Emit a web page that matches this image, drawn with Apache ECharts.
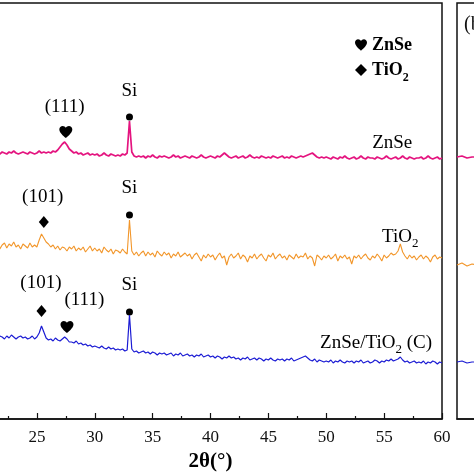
<!DOCTYPE html>
<html>
<head>
<meta charset="utf-8">
<script src="https://cdn.jsdelivr.net/npm/echarts@6/dist/echarts.min.js"></script>
<style>
  html, body { margin: 0; padding: 0; background: #fff; }
  #container { width: 474px; height: 474px; }
</style>
</head>
<body>
<div id="container"></div>
<script>
// 2theta grid, 20.0 .. 60.0 every 0.2 deg
let twoTheta = [];
for (let i = 0; i <= 200; i++) twoTheta.push(+(20 + i * 0.2).toFixed(1));

// intensities (a.u.), one row = 2 degrees
let znseData = [
    266, 267, 265, 266, 268, 266, 265, 267, 266, 265,
    267, 266, 265, 267, 266, 268, 266, 265, 266, 267,
    266, 265, 267, 266, 265, 266, 268, 266, 267, 266,
    267, 266, 268, 267, 269, 272, 275, 277, 274, 270,
    268, 266, 267, 265, 266, 264, 265, 266, 264, 265,
    264, 265, 263, 264, 266, 264, 263, 265, 264, 263,
    264, 263, 265, 264, 266, 298, 267, 263, 262, 263,
    262, 263, 261, 263, 262, 264, 262, 261, 263, 262,
    263, 262, 261, 262, 264, 262, 263, 261, 262, 263,
    262, 261, 263, 262, 261, 262, 264, 262, 261, 262,
    263, 262, 261, 263, 262, 264, 266, 264, 262, 261,
    262, 263, 261, 262, 263, 261, 262, 264, 262, 261,
    262, 261, 263, 262, 261, 262, 261, 263, 262, 261,
    262, 263, 261, 262, 261, 263, 262, 261, 262, 263,
    262, 263, 264, 265, 266, 264, 262, 261, 262, 261,
    262, 261, 260, 262, 261, 260, 262, 261, 263, 261,
    260, 261, 262, 260, 261, 263, 261, 260, 262, 261,
    261, 260, 262, 261, 260, 261, 263, 261, 260, 261,
    262, 260, 261, 263, 261, 260, 262, 261, 260, 261,
    261, 262, 260, 261, 263, 261, 260, 261, 262, 260,
    261
];

let tio2Data = [
    175, 172, 176, 173, 171, 175, 177, 172, 174, 170,
    174, 176, 171, 175, 173, 177, 172, 174, 170, 175,
    173, 171, 176, 172, 174, 172, 179, 185, 181, 177,
    175, 172, 174, 170, 173, 169, 172, 171, 168, 172,
    170, 173, 168, 171, 169, 172, 167, 170, 173, 168,
    171, 168, 170, 166, 172, 169, 167, 170, 165, 169,
    168, 166, 170, 167, 165, 199, 168, 164, 167, 163,
    166, 168, 163, 167, 164, 166, 162, 168, 165, 163,
    167, 164, 166, 161, 165, 163, 167, 162, 164, 166,
    163, 165, 160, 164, 166, 162, 158, 164, 161, 165,
    162, 164, 159, 163, 166, 161, 163, 154, 162, 165,
    161, 163, 166, 160, 164, 162, 157, 163, 161, 165,
    160, 163, 165, 161, 158, 164, 162, 166, 160, 163,
    165, 161, 163, 159, 164, 162, 160, 165, 161, 163,
    162, 166, 160, 163, 161, 153, 164, 162, 159, 163,
    161, 164, 160, 162, 165, 158, 163, 161, 164, 160,
    162, 155, 163, 161, 164, 160, 163, 165, 161, 159,
    163, 161, 165, 162, 158, 164, 161, 163, 166, 164,
    165, 168, 175, 167, 163, 160, 164, 161, 163, 159,
    162, 164, 160, 163, 161, 157, 162, 164, 160, 162,
    161
];

let compositeData = [
    83, 81, 84, 82, 80, 83, 82, 84, 81, 83,
    82, 80, 83, 81, 84, 82, 80, 82, 83, 81,
    82, 80, 81, 83, 80, 82, 86, 93, 87, 81,
    79, 80, 78, 81, 79, 78, 80, 82, 80, 77,
    77, 76, 78, 75, 76, 74, 75, 73, 74, 72,
    73, 72, 71, 73, 71, 70, 72, 70, 71, 69,
    70, 69, 70, 68, 69, 104, 70, 67, 68, 66,
    67, 68, 66, 67, 65, 67, 66, 64, 66, 65,
    66, 64, 65, 66, 63, 65, 64, 66, 63, 64,
    65, 63, 64, 62, 64, 63, 65, 62, 63, 64,
    62, 63, 61, 63, 62, 60, 62, 61, 63, 61,
    62, 60, 61, 59, 61, 60, 62, 59, 60, 61,
    59, 61, 60, 58, 60, 59, 61, 59, 58, 60,
    59, 60, 58, 60, 59, 61, 58, 59, 60, 61,
    62, 63, 61, 59, 58, 60, 57, 59, 58, 57,
    58, 57, 59, 56, 58, 57, 59, 57, 56, 58,
    57, 58, 56, 58, 57, 59, 56, 57, 58, 56,
    57, 59, 58, 56, 58, 57, 59, 58, 60, 58,
    59, 60, 62, 59, 57, 58, 56, 57, 58, 56,
    57, 56, 58, 55, 57, 56, 58, 57, 55, 57,
    56
];

// start of panel (b), only a sliver is visible
let panelBTheta = [20, 20.5, 21, 21.5, 22, 22.5, 23];
let panelBZnse = [262, 263, 261, 262, 262, 261, 262];
let panelBTio2 = [154, 156, 153, 155, 154, 155, 153];
let panelBComp = [57, 58, 56, 57, 57, 56, 57];

// peak markers [2theta, intensity]
let znsePeaks = [[27.5, 287], [27.6, 92]];
let tio2Peaks = [[25.6, 197], [25.4, 108]];
let siPeaks = [[33.0, 302], [33.0, 204], [33.0, 107]];

// peak / pattern captions [text, 2theta, intensity]
let captions = [
    ['(111)', 27.4, 312], ['Si', 33.0, 328],
    ['(101)', 25.5, 222], ['Si', 33.0, 231],
    ['(101)', 25.35, 136], ['(111)', 29.1, 119], ['Si', 33.0, 134],
    ['ZnSe', 55.7, 276],
    ['{a|TiO}{s|2}', 56.4, 182],
    ['{a|ZnSe/TiO}{s|2}{a| (C)}', 54.3, 76]
];

const serif = 'Liberation Serif, Times New Roman, serif';
const ink = '#111';
const heart = 'path://M12 21C12 21 2 13.5 2 7.5C2 4.4 4.4 2 7.2 2C9.2 2 11 3.2 12 4.8C13 3.2 14.8 2 16.8 2C19.6 2 22 4.4 22 7.5C22 13.5 12 21 12 21Z';

function pairs(xs, ys) {
    return xs.map((x, i) => [x, ys[i]]);
}

var dom = document.getElementById('container');
var myChart = echarts.init(dom, null, { renderer: 'canvas' });

var option = {
    animation: false,
    title: {
        text: '(b)',
        left: 459,
        top: 10,
        textStyle: { fontFamily: serif, fontSize: 20, fontWeight: 'normal', color: ink }
    },
    legend: {
        orient: 'vertical',
        left: 350,
        top: 31,
        itemGap: 7,
        itemWidth: 12,
        itemHeight: 12,
        data: [{ name: 'ZnSe', icon: heart }, { name: 'TiO₂', icon: 'diamond' }],
        formatter: name => name === 'ZnSe' ? '{b|ZnSe}' : '{b|TiO}{s|2}',
        textStyle: {
            rich: {
                b: { fontFamily: serif, fontSize: 18, fontWeight: 'bold', color: '#000', lineHeight: 20 },
                s: { fontFamily: serif, fontSize: 12, fontWeight: 'bold', color: '#000', verticalAlign: 'bottom', lineHeight: 20, padding: [0, 0, -4, 0] }
            }
        }
    },
    grid: [
        { left: -21, right: 32, top: 3, bottom: 55, show: true, borderColor: ink, borderWidth: 1.5, outerBoundsMode: 'none', containLabel: false },
        { left: 457, width: 400, top: 3, bottom: 55, show: true, borderColor: ink, borderWidth: 1.5, outerBoundsMode: 'none', containLabel: false }
    ],
    xAxis: [
        {
            type: 'value',
            gridIndex: 0,
            min: 20,
            max: 60,
            interval: 5,
            name: '2θ(°)',
            nameLocation: 'middle',
            nameGap: 30,
            nameTextStyle: { fontFamily: serif, fontSize: 21, fontWeight: 'bold', color: '#000' },
            axisLine: { lineStyle: { color: ink, width: 1.5 } },
            axisTick: { inside: true, length: 6, lineStyle: { color: ink, width: 1.2 } },
            minorTick: { show: true, splitNumber: 2, length: 3, lineStyle: { color: ink, width: 1.2 } },
            axisLabel: { fontFamily: serif, fontSize: 17, color: ink, margin: 10 },
            splitLine: { show: false }
        },
        {
            type: 'value',
            gridIndex: 1,
            min: 20,
            max: 60,
            axisLine: { lineStyle: { color: ink, width: 1.5 } },
            axisTick: { show: false },
            axisLabel: { show: false },
            splitLine: { show: false }
        }
    ],
    yAxis: [
        { type: 'value', gridIndex: 0, min: 0, max: 416, show: false },
        { type: 'value', gridIndex: 1, min: 0, max: 416, show: false }
    ],
    series: [
        {
            name: 'ZnSe pattern', type: 'line', data: pairs(twoTheta, znseData),
            showSymbol: false, lineStyle: { color: '#e4147f', width: 1.7 }, itemStyle: { color: '#e4147f' }
        },
        {
            name: 'TiO2 pattern', type: 'line', data: pairs(twoTheta, tio2Data),
            showSymbol: false, lineStyle: { color: '#f2962a', width: 1.1 }, itemStyle: { color: '#f2962a' }
        },
        {
            name: 'ZnSe/TiO2 (C) pattern', type: 'line', data: pairs(twoTheta, compositeData),
            showSymbol: false, lineStyle: { color: '#1c1cd4', width: 1.2 }, itemStyle: { color: '#1c1cd4' }
        },
        {
            name: 'b ZnSe', type: 'line', xAxisIndex: 1, yAxisIndex: 1, data: pairs(panelBTheta, panelBZnse),
            showSymbol: false, lineStyle: { color: '#e4147f', width: 1.7 }
        },
        {
            name: 'b TiO2', type: 'line', xAxisIndex: 1, yAxisIndex: 1, data: pairs(panelBTheta, panelBTio2),
            showSymbol: false, lineStyle: { color: '#f2962a', width: 1.1 }
        },
        {
            name: 'b comp', type: 'line', xAxisIndex: 1, yAxisIndex: 1, data: pairs(panelBTheta, panelBComp),
            showSymbol: false, lineStyle: { color: '#1c1cd4', width: 1.2 }
        },
        {
            name: 'ZnSe', type: 'scatter', data: znsePeaks, symbol: heart, symbolSize: [13, 12],
            itemStyle: { color: '#000', opacity: 1 }
        },
        {
            name: 'TiO₂', type: 'scatter', data: tio2Peaks, symbol: 'diamond', symbolSize: [10, 12],
            itemStyle: { color: '#000', opacity: 1 }
        },
        {
            name: 'Si', type: 'scatter', data: siPeaks, symbol: 'circle', symbolSize: 7,
            itemStyle: { color: '#000', opacity: 1 }
        },
        {
            name: 'captions', type: 'scatter', symbolSize: 0,
            itemStyle: { opacity: 1 },
            data: captions.map(c => ({ value: [c[1], c[2]], text: c[0] })),
            label: {
                show: true,
                position: 'inside',
                formatter: p => p.data.text,
                fontFamily: serif, fontSize: 19, color: '#000',
                opacity: 1,
                textBorderWidth: 0,
                rich: {
                    a: { fontFamily: serif, fontSize: 19, color: '#000', lineHeight: 22, textBorderWidth: 0 },
                    s: { fontFamily: serif, fontSize: 13, color: '#000', verticalAlign: 'bottom', lineHeight: 22, padding: [0, 0, -2, 0], textBorderWidth: 0 }
                }
            }
        }
    ]
};

myChart.setOption(option);
window.addEventListener('resize', myChart.resize);
</script>
</body>
</html>
